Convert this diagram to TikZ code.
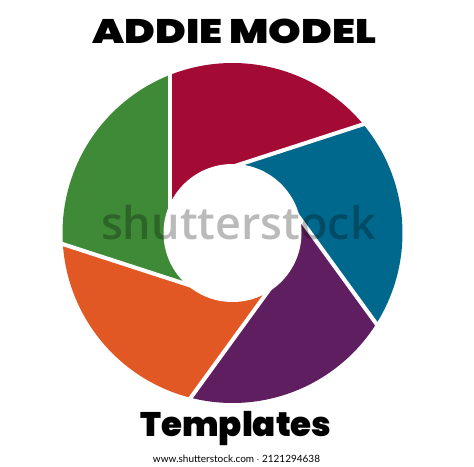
\documentclass[tikz,border=0pt]{standalone}
\usepackage{fontspec}
\setmainfont{Lato}
\newfontfamily\titlefont{Poppins}[UprightFont={* Black}, FakeStretch=1.22]
\newfontfamily\subfont{Poppins}[UprightFont={* Black}]
\newfontfamily\markfont{Open Sans}[UprightFont={* Semibold}]
\definecolor{cred}{HTML}{A30A34}
\definecolor{cblue}{HTML}{00688C}
\definecolor{cpurple}{HTML}{5F1E60}
\definecolor{corange}{HTML}{E25824}
\definecolor{cgreen}{HTML}{3E8A36}
\tikzset{
  gapline/.style={white, line width=4pt},
  titletext/.style={font=\titlefont\fontsize{34}{34}\selectfont, anchor=base},
  subtext/.style={font=\subfont\fontsize{34}{34}\selectfont, anchor=base},
  smalltext/.style={font=\fontsize{10}{10}\selectfont, anchor=base},
  marktext/.style={font=\markfont\fontsize{45}{45}\selectfont, anchor=base, text=black, text opacity=0.27}
}
\begin{document}
\begin{tikzpicture}[x=1pt,y=1pt]
\useasboundingbox (0,0) rectangle (474,466);
\fill[white] (0,0) rectangle (474,466);
\coordinate (C) at (232.5,233);
% blades
\foreach \k/\col in {0/cred,1/cblue,2/cpurple,3/corange,4/cgreen}{
  \pgfmathsetmacro\a{111.75-72*\k}
  \pgfmathsetmacro\ae{111.75-72*(\k+1)}
  \pgfmathsetmacro\b{155.93-72*(\k+1)}
  \pgfmathsetmacro\bb{155.93-72*\k}
  \fill[\col] ([shift={(\a:170)}]C) arc[start angle=\a, end angle=\ae, radius=170]
     -- ([shift={(\b:69)}]C) -- (C) -- ([shift={(\bb:69)}]C) -- cycle;
}
% gaps
\foreach \k in {0,...,4}{
  \begin{scope}[rotate around={-72*\k:(C)}]
    \draw[gapline] ([shift={(-63,161)}]C) -- ([shift={(-63,20)}]C);
  \end{scope}
}
% hole
\fill[white] (C) circle (69);
% texts
\node[titletext] (title) at (234.5,422) {ADDIE MODEL};
\node[subtext] (sub) at (236,30) {Templates};
\node[smalltext] (foot) at (236.5,4) {www.shutterstock.com $\cdot$ 2121294638};
\node[marktext] (mark) at (238.5,226) {shutterstock};
\end{tikzpicture}
\end{document}
